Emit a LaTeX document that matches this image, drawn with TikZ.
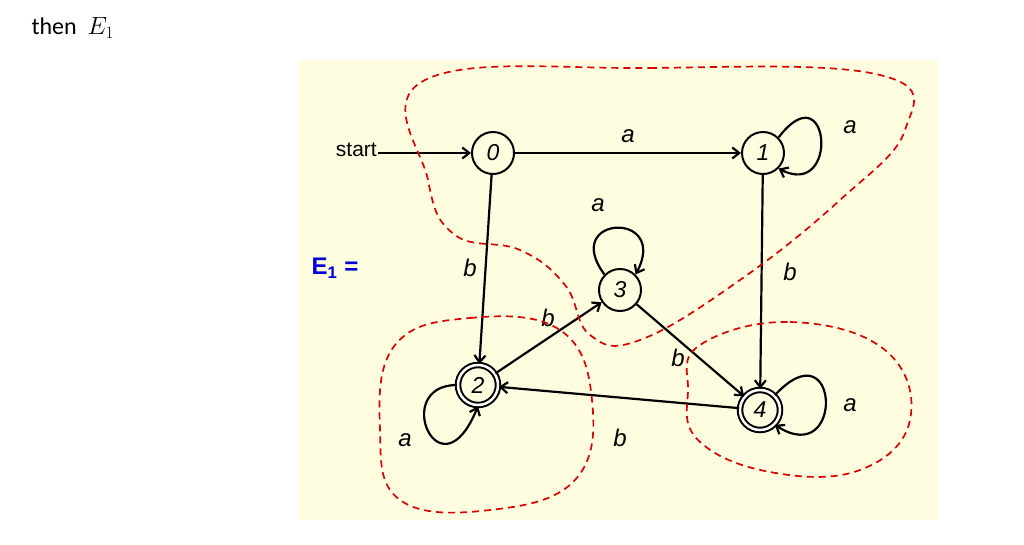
\documentclass[tikz,border=0pt]{standalone}
\usepackage{fontspec}
\setmainfont{Liberation Sans}
\newfontfamily\calib{Carlito}
\usetikzlibrary{arrows.meta}
\begin{document}
\begin{tikzpicture}[x=1pt,y=-1pt,
  st/.style={circle,draw,line width=2pt,minimum size=42pt,inner sep=0pt,font=\fontsize{23}{26}\selectfont\itshape},
  acc/.style={st,double,double distance=2.5pt,minimum size=40pt},
  lbl/.style={font=\fontsize{24}{26}\selectfont\itshape},
  tr/.style={-{Straight Barb[length=7pt,width=11pt]},line width=2.2pt},
  reg/.style={red!85!black,dash pattern=on 7pt off 5pt,line width=1.7pt}]
\useasboundingbox (0,0) rectangle (1024,545);
\fill[yellow!12] (298,60) rectangle (938,520);
\node[font=\calib\fontsize{24}{26}\selectfont,anchor=west] (then) at (28,28) {then \ $E_1$};
\node[font=\bfseries\fontsize{24}{26}\selectfont,text=blue!85!black] (e1) at (335,268) {E\textsubscript{1} =};
\node[st] (s0) at (493,153) {0};
\node[st] (s1) at (763,153) {1};
\node[st] (s3) at (620,290) {3};
\node[acc] (s2) at (478,385) {2};
\node[acc] (s4) at (760,410) {4};
\node[font=\fontsize{21}{24}\selectfont,anchor=east,inner sep=1pt] (start) at (378,150) {start};
\draw[tr] (start.east |- s0.west) -- (s0.west);
\draw[tr] (s0) -- node[lbl,above=6pt] {a} (s1);
\draw[tr] (s1.north east) .. controls (830,70) and (840,200) .. (s1.south east);
\node[lbl] (la1) at (850,127) {a};
\draw[tr] (s0) -- (s2);
\node[lbl] (lb02) at (470,268) {b};
\draw[tr] (s1) -- (s4);
\node[lbl] (lb14) at (790,272) {b};
\draw[tr] (s3.north west) .. controls (560,215) and (670,210) .. (s3.north east);
\node[lbl] (la3) at (598,205) {a};
\draw[tr] (s2) -- (s3);
\node[lbl] (lb23) at (548,318) {b};
\draw[tr] (s3) -- (s4);
\node[lbl] (lb34) at (678,358) {b};
\draw[tr] (s4) -- (s2);
\node[lbl] (lb42) at (620,438) {b};
\draw[tr] (s2.west) .. controls (390,385) and (440,500) .. (s2.south);
\node[lbl] (la2) at (405,440) {a};
\draw[tr] (s4.north east) .. controls (840,325) and (845,470) .. (s4.south east);
\node[lbl] (la4) at (850,405) {a};
\draw[reg] plot[smooth cycle,tension=0.7] coordinates{(425,80) (650,68) (880,75) (905,130) (840,200) (740,280) (640,340) (590,335) (565,285) (520,250) (455,235) (428,180)};
\draw[reg] plot[smooth cycle,tension=0.7] coordinates{(395,345) (470,318) (560,330) (592,400) (575,480) (490,510) (400,500) (380,430)};
\draw[reg] plot[smooth cycle,tension=0.7] coordinates{(700,345) (790,322) (885,350) (910,420) (860,470) (770,472) (698,440) (688,390)};
\end{tikzpicture}
\end{document}
